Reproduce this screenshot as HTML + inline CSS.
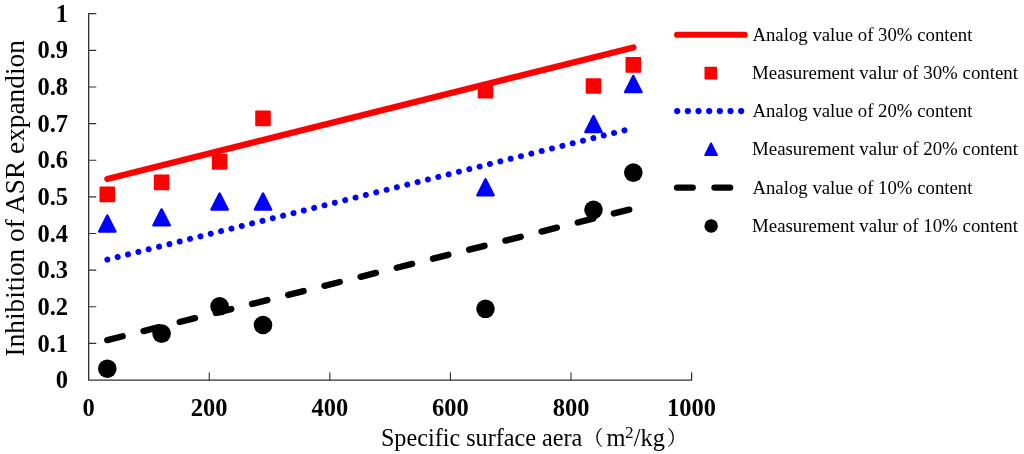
<!DOCTYPE html>
<html>
<head>
<meta charset="utf-8">
<title>Inhibition of ASR expansion</title>
<style>
html,body{margin:0;padding:0;background:#fff;}
body{width:1024px;height:454px;overflow:hidden;}
svg{display:block;}
text{font-family:"Liberation Serif","Noto Serif CJK SC",serif;fill:#000;}
.tick{font-weight:bold;font-size:24.5px;}
.leg{font-size:18.8px;}
.xt{font-size:24.2px;}
.yt{font-size:27.3px;}
</style>
</head>
<body>
<svg width="1024" height="454" viewBox="0 0 1024 454">
<rect width="1024" height="454" fill="#fff"/>

<g stroke="#303030" stroke-width="1.3" fill="none" stroke-linejoin="round" stroke-linecap="round">
<path d="M95.85000000000001 13.7H88.65V380.05H691.6v-7.2"/>
<path stroke-width="1.1" d="M88.65 50.34h7.2M88.65 86.97h7.2M88.65 123.61h7.2M88.65 160.24h7.2M88.65 196.88h7.2M88.65 233.51h7.2M88.65 270.15h7.2M88.65 306.78h7.2M88.65 343.42h7.2"/>
<path stroke-width="1.1" d="M209.24 380.05v-7.2M329.83 380.05v-7.2M450.42 380.05v-7.2M571.01 380.05v-7.2"/>
</g>
<g class="tick" text-anchor="end">
<text x="68.1" y="21.80">1</text>
<text x="68.1" y="58.44">0.9</text>
<text x="68.1" y="95.07">0.8</text>
<text x="68.1" y="131.71">0.7</text>
<text x="68.1" y="168.34">0.6</text>
<text x="68.1" y="204.97">0.5</text>
<text x="68.1" y="241.61">0.4</text>
<text x="68.1" y="278.25">0.3</text>
<text x="68.1" y="314.88">0.2</text>
<text x="68.1" y="351.52">0.1</text>
<text x="68.1" y="388.15">0</text>
</g>
<g class="tick" text-anchor="middle">
<text x="88.65" y="416.2">0</text>
<text x="209.24" y="416.2">200</text>
<text x="329.83" y="416.2">400</text>
<text x="450.42" y="416.2">600</text>
<text x="571.01" y="416.2">800</text>
<text x="691.60" y="416.2">1000</text>
</g>
<text class="yt" transform="translate(23.8,356.4) rotate(-90)">Inhibition of ASR expandion</text>
<text class="xt" x="380.9" y="445.5">Specific surface aera<tspan x="583.1" y="444.7" font-size="20.5">（</tspan><tspan x="606.6" y="445.5" font-size="24.4">m</tspan><tspan font-size="17.2" x="625.0" y="437.8">2</tspan><tspan x="633.75" y="445.5" font-size="24.4">/kg</tspan><tspan x="666.7" y="444.7" font-size="20.5">）</tspan></text>
<path d="M107.3 178.9L633.4 47.4" stroke="#f00" stroke-width="6.2" stroke-linecap="round" fill="none"/>
<path d="M107.3 259.6L633.4 128.1" stroke="#00f" stroke-width="6" stroke-linecap="round" stroke-dasharray="0.01 10.65" fill="none"/>
<path d="M107.3 340.1L633.4 208.6" stroke="#000" stroke-width="6.4" stroke-linecap="round" stroke-dasharray="15.8 21.5" fill="none"/>
<g fill="#f00">
<rect x="99.50" y="186.60" width="15.6" height="15.6" rx="0.8"/>
<rect x="153.80" y="174.60" width="15.6" height="15.6" rx="0.8"/>
<rect x="211.80" y="154.10" width="15.6" height="15.6" rx="0.8"/>
<rect x="255.20" y="110.60" width="15.6" height="15.6" rx="0.8"/>
<rect x="477.70" y="83.00" width="15.6" height="15.6" rx="0.8"/>
<rect x="585.70" y="78.20" width="15.6" height="15.6" rx="0.8"/>
<rect x="625.50" y="57.10" width="15.6" height="15.6" rx="0.8"/>
</g>
<g fill="#00f" stroke="#00f" stroke-width="2.4" stroke-linejoin="round">
<path d="M107.30 215.50L115.45 231.50H99.15z"/>
<path d="M161.60 209.40L169.75 225.40H153.45z"/>
<path d="M219.60 193.60L227.75 209.60H211.45z"/>
<path d="M263.00 193.60L271.15 209.60H254.85z"/>
<path d="M485.50 179.20L493.65 195.20H477.35z"/>
<path d="M593.50 116.00L601.65 132.00H585.35z"/>
<path d="M633.30 76.10L641.45 92.10H625.15z"/>
</g>
<g fill="#000">
<circle cx="107.3" cy="368.7" r="9.3"/>
<circle cx="161.6" cy="333.6" r="9.3"/>
<circle cx="219.6" cy="306.3" r="9.3"/>
<circle cx="263.0" cy="325.0" r="9.3"/>
<circle cx="485.5" cy="308.8" r="9.3"/>
<circle cx="593.5" cy="209.8" r="9.3"/>
<circle cx="633.3" cy="172.6" r="9.3"/>
</g>
<path d="M677.1 34.75H744.7" stroke="#f00" stroke-width="6.2" stroke-linecap="round" fill="none"/>
<rect x="704.5" y="66.8" width="12.6" height="12.6" rx="0.6" fill="#f00"/>
<path d="M677.2 111.1H744.7" stroke="#00f" stroke-width="6.2" stroke-linecap="round" stroke-dasharray="0.01 10.65" fill="none"/>
<path d="M711.05 143.5L716.9 155.1H705.2z" fill="#00f" stroke="#00f" stroke-width="2" stroke-linejoin="round"/>
<path d="M677.1 187.6H744.7" stroke="#000" stroke-width="6.4" stroke-linecap="round" stroke-dasharray="15.6 21.8" fill="none"/>
<circle cx="711.15" cy="226.05" r="6.75" fill="#000"/>
<g class="leg">
<text x="752.4" y="40.65">Analog value of 30% content</text>
<text x="752.0" y="78.95" font-size="18.87">Measurement valur of 30% content</text>
<text x="752.4" y="117.20">Analog value of 20% content</text>
<text x="752.0" y="155.45" font-size="18.87">Measurement valur of 20% content</text>
<text x="752.4" y="193.70">Analog value of 10% content</text>
<text x="752.0" y="231.95" font-size="18.87">Measurement valur of 10% content</text>
</g>
</svg>
</body>
</html>
